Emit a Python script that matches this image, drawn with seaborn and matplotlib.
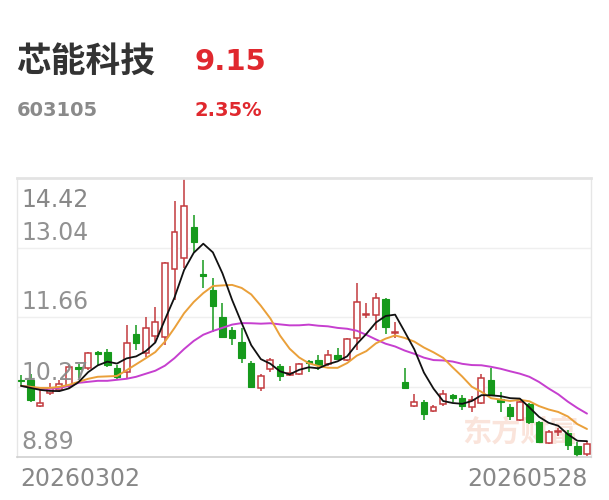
import numpy as np
import pandas as pd
import seaborn as sns
import matplotlib.pyplot as plt

# 日K数据
start_date = "20260302"
end_date = "20260528"
open_ = [10.41, 10.42, 9.90, 10.16, 10.22, 10.30, 10.67, 10.66, 10.97, 10.97,
         10.66, 10.58, 11.33, 10.95, 11.29, 11.27, 12.62, 12.84, 13.45, 12.52,
         12.20, 11.66, 11.41, 11.17, 10.75, 10.26, 10.63, 10.69, 10.52, 10.54,
         10.79, 10.81, 10.73, 10.91, 10.81, 11.25, 11.70, 11.70, 12.02, 11.35,
         10.38, 9.90, 9.98, 9.80, 9.94, 10.12, 10.06, 9.88, 9.96, 10.42,
         10.04, 9.88, 9.62, 9.94, 9.58, 9.17, 9.39, 9.37, 9.11, 8.95]
high = [10.52, 10.54, 10.22, 10.36, 10.42, 10.71, 10.73, 10.97, 10.99, 11.03,
        10.71, 11.51, 11.51, 11.67, 11.86, 12.76, 13.96, 14.42, 13.69, 12.80,
        12.44, 11.94, 11.47, 11.45, 10.79, 10.54, 10.85, 10.73, 10.69, 10.75,
        10.81, 10.91, 11.01, 11.05, 11.25, 12.34, 11.94, 12.14, 12.04, 11.57,
        10.65, 10.14, 10.02, 9.92, 10.22, 10.14, 10.12, 10.10, 10.54, 10.65,
        10.18, 9.94, 10.00, 9.96, 9.60, 9.43, 9.47, 9.43, 9.19, 9.21]
low = [10.30, 9.98, 9.88, 10.12, 10.18, 10.26, 10.46, 10.62, 10.72, 10.67,
       10.42, 10.46, 11.01, 10.87, 11.17, 11.11, 12.00, 12.64, 12.95, 12.24,
       11.37, 11.25, 11.11, 10.75, 10.26, 10.20, 10.58, 10.40, 10.50, 10.52,
       10.58, 10.62, 10.69, 10.81, 10.79, 11.01, 11.65, 11.41, 11.33, 11.25,
       10.24, 9.88, 9.62, 9.78, 9.90, 9.98, 9.82, 9.78, 9.94, 10.10,
       9.78, 9.62, 9.60, 9.54, 9.17, 9.15, 9.31, 9.03, 8.89, 8.91]
close = [10.40, 10.02, 9.96, 10.26, 10.34, 10.67, 10.64, 10.95, 10.93, 10.71,
         10.48, 11.15, 11.15, 11.45, 11.57, 12.74, 13.35, 13.87, 13.15, 12.48,
         11.88, 11.27, 11.25, 10.85, 10.28, 10.50, 10.81, 10.50, 10.55, 10.73,
         10.75, 10.71, 10.91, 10.83, 11.23, 11.96, 11.72, 12.04, 11.47, 11.37,
         10.26, 9.98, 9.74, 9.88, 10.14, 10.06, 9.90, 10.02, 10.46, 10.12,
         9.98, 9.70, 9.98, 9.58, 9.19, 9.39, 9.41, 9.13, 8.94, 9.15]

# 均线开头几天用到区间之前的数据, 这里直接读图
ma5_head = [10.30, 10.26, 10.22, 10.20]
ma10_head = [10.30, 10.28, 10.26, 10.26, 10.28, 10.32, 10.38, 10.44, 10.48]
ma20_head = [10.30, 10.28, 10.24, 10.24, 10.26, 10.30, 10.36, 10.38, 10.40, 10.40,
             10.42, 10.44, 10.48, 10.54, 10.60, 10.70, 10.85, 11.03, 11.19]

y_ticks = [14.42, 13.04, 11.66, 10.27, 8.89]

df = pd.DataFrame({"open": open_, "high": high, "low": low, "close": close})
df["idx"] = np.arange(len(df))
for n, head in [(5, ma5_head), (10, ma10_head), (20, ma20_head)]:
    ma = df["close"].rolling(n).mean()
    ma.iloc[:len(head)] = head
    df["ma%d" % n] = ma

sns.set_style("white")
plt.rcParams['font.family'] = ['DejaVu Sans']

RED = "#c23a3e"
GREEN = "#169a1c"

fig = plt.figure(figsize=(6.09, 5.0), dpi=100)
ax = fig.add_axes([17 / 609, 43 / 500, 574 / 609, 279 / 500])

# 水印
ax.text(0.775, 0.09, "东方财富", transform=ax.transAxes, fontsize=21,
        color="#fae4db", family=["Noto Sans CJK SC", "DejaVu Sans"],
        fontweight="bold", ha="left", va="center", zorder=0)

# 网格
for v in y_ticks[1:-1]:
    ax.axhline(v, color="#efefef", lw=1, zorder=0)

# K线
up = df["close"] >= df["open"]
for i, r in df.iterrows():
    col = RED if up[i] else GREEN
    ax.vlines(r["idx"], r["low"], r["high"], color=col, lw=1.1, zorder=2)
    lo = min(r["open"], r["close"])
    h = max(abs(r["close"] - r["open"]), 0.012)
    if up[i]:
        ax.bar(r["idx"], h, bottom=lo, width=0.62, facecolor="white",
               edgecolor=col, linewidth=1.1, zorder=3)
    else:
        ax.bar(r["idx"], h, bottom=lo, width=0.66, facecolor=col,
               edgecolor=col, linewidth=0.8, zorder=3)

# 均线
sns.lineplot(data=df, x="idx", y="ma20", color="#c63fcf", lw=1.4, ax=ax, zorder=4)
sns.lineplot(data=df, x="idx", y="ma10", color="#eaa03a", lw=1.4, ax=ax, zorder=4)
sns.lineplot(data=df, x="idx", y="ma5", color="#111111", lw=1.3, ax=ax, zorder=5)

ax.set_xlim(-0.42, len(df) - 1 + 0.42)
ax.set_ylim(y_ticks[-1], y_ticks[0])
ax.set_xticks([])
ax.set_yticks([])
ax.set_xlabel("")
ax.set_ylabel("")
for s in ["left", "right"]:
    ax.spines[s].set_color("#e6e6e6")
    ax.spines[s].set_linewidth(1)
ax.spines["top"].set_color("#e3e3e3")
ax.spines["top"].set_linewidth(2)
ax.spines["bottom"].set_color("#cfcfcf")
ax.spines["bottom"].set_linewidth(1.2)

# 纵轴数值
for k, v in enumerate(y_ticks):
    if k == 0:
        ax.annotate("%.2f" % v, (0, v), xycoords=("axes fraction", "data"),
                    xytext=(3, -7), textcoords="offset points", ha="left", va="top",
                    fontsize=17, color="#888888", zorder=10)
    else:
        ax.annotate("%.2f" % v, (0, v), xycoords=("axes fraction", "data"),
                    xytext=(3, 2), textcoords="offset points", ha="left", va="bottom",
                    fontsize=17, color="#888888", alpha=0.92, zorder=10)

# 日期
fig.text(20 / 609, 1 - 479 / 500, start_date, fontsize=17, color="#888888",
         ha="left", va="center")
fig.text(588 / 609, 1 - 479 / 500, end_date, fontsize=17, color="#888888",
         ha="right", va="center")

# 标题区
fig.text(16 / 609, 1 - 61 / 500, "芯能科技", fontsize=25, fontweight="bold",
         color="#333333", family=["Noto Sans CJK SC", "DejaVu Sans"], ha="left", va="center")
fig.text(194 / 609, 1 - 62 / 500, "9.15", fontsize=21, fontweight="bold",
         color="#e0282e", ha="left", va="center")
fig.text(17 / 609, 1 - 111 / 500, "603105", fontsize=14, fontweight="bold",
         color="#8a8a8a", ha="left", va="center")
fig.text(195 / 609, 1 - 111 / 500, "2.35%", fontsize=14, fontweight="bold",
         color="#e0282e", ha="left", va="center")

fig.savefig("out.png", dpi=100, facecolor="white")
